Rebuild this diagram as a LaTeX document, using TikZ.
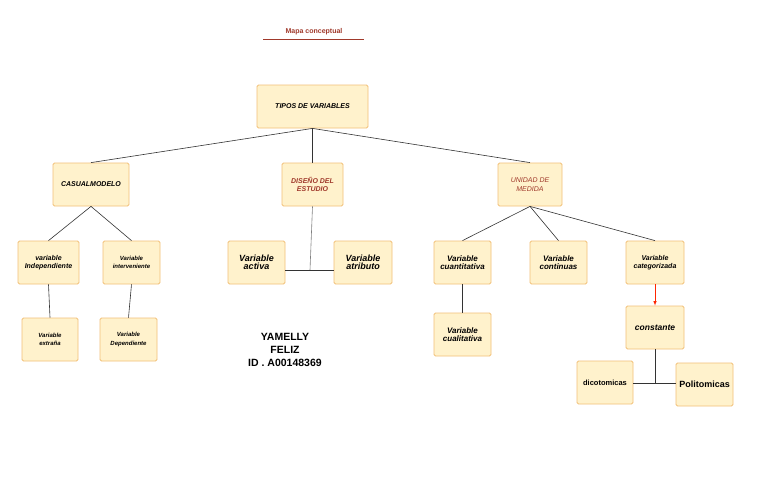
\documentclass[tikz,border=0pt]{standalone}
\usepackage{fontspec}
\setmainfont{Liberation Sans}
\definecolor{boxfill}{HTML}{FFF2CC}
\definecolor{boxline}{HTML}{F2C078}
\definecolor{redtxt}{HTML}{A0392B}
\begin{document}
\begin{tikzpicture}[x=1pt,y=-1pt,
  bx/.style={draw=boxline,fill=boxfill,rounded corners=1.5pt,line width=0.8pt,align=center,font=\bfseries\itshape\fontsize{7}{8.5}\selectfont},
  ln/.style={draw=black!80,line width=0.6pt}]
\useasboundingbox (0,0) rectangle (768,479);
\fill[white] (0,0) rectangle (768,479);
\node[font=\bfseries\fontsize{7}{8}\selectfont,text=redtxt] (title) at (314,32) {Mapa conceptual};
\draw[redtxt,line width=0.6pt] (263,39) -- (364,39);
\newcommand{\bxat}[6]{\node[bx,minimum width=#3-#2,minimum height=#5-#4,inner sep=1pt] (#1) at ({(#2+#3)/2},{(#4+#5)/2}) {#6};}
\bxat{tipos}{257}{368}{85}{128}{TIPOS DE VARIABLES}
\bxat{casual}{53}{129}{163}{206}{CASUALMODELO}
\bxat{dis}{282}{343}{163}{206}{\textcolor{redtxt}{DISEÑO DEL}\\\textcolor{redtxt}{ESTUDIO}}
\bxat{uni}{498}{562}{163}{206}{\mdseries\textcolor{redtxt}{UNIDAD DE}\\\mdseries\textcolor{redtxt}{MEDIDA}}
\bxat{indep}{18}{79}{241}{284}{variable\\Independiente}
\bxat{interv}{103}{160}{241}{284}{\fontsize{6}{8}\selectfont Variable\\\fontsize{6}{8}\selectfont interveniente}
\bxat{extr}{22}{78}{318}{361}{\fontsize{6}{8}\selectfont Variable\\\fontsize{6}{8}\selectfont extraña}
\bxat{dep}{100}{157}{318}{361}{\fontsize{6}{8}\selectfont Variable\\\fontsize{6}{8}\selectfont Dependiente}
\bxat{act}{228}{285}{241}{284}{\fontsize{9}{12}\selectfont Variable\\\fontsize{9}{12}\selectfont activa}
\bxat{atr}{334}{392}{241}{284}{\fontsize{9}{12}\selectfont Variable\\\fontsize{9}{12}\selectfont atributo}
\bxat{cuan}{434}{491}{241}{284}{\fontsize{8}{10}\selectfont Variable\\\fontsize{8}{10}\selectfont cuantitativa}
\bxat{cont}{530}{587}{241}{284}{\fontsize{8}{10}\selectfont Variable\\\fontsize{8}{10}\selectfont continuas}
\bxat{cat}{626}{684}{241}{284}{Variable\\categorizada}
\bxat{cual}{434}{491}{313}{356}{\fontsize{8}{10}\selectfont Variable\\\fontsize{8}{10}\selectfont cualitativa}
\bxat{cons}{626}{684}{306}{349}{\fontsize{8.5}{10}\selectfont constante}
\bxat{dic}{577}{633}{361}{404}{\upshape\fontsize{7.5}{9}\selectfont dicotomicas}
\bxat{pol}{676}{733}{363}{406}{\upshape\fontsize{9}{11}\selectfont Politomicas}
\node[font=\bfseries\fontsize{10.5}{13}\selectfont,align=center] (name) at (285,350) {YAMELLY\\FELIZ\\ID . A00148369};
% connectors
\draw[ln] (tipos.south) -- (casual.north);
\draw[ln] (tipos.south) -- (dis.north);
\draw[ln] (tipos.south) -- (uni.north);
\draw[ln] (casual.south) -- (indep.north);
\draw[ln] (casual.south) -- (interv.north);
\draw[ln] (indep.south) -- (extr.north);
\draw[ln] (interv.south) -- (dep.north);
\coordinate (j1) at (310,270);
\draw[ln,black!50] (dis.south) -- (j1);
\draw[ln,line width=1pt] (act.east |- j1) -- (atr.west |- j1);
\draw[ln] (uni.south) -- (cuan.north);
\draw[ln] (uni.south) -- (cont.north);
\draw[ln] (uni.south) -- (cat.north);
\draw[ln] (cuan.south) -- (cual.north);
\draw[draw=red!70!orange,line width=0.6pt,-latex] (cat.south) -- (cons.north);
\coordinate (j2) at (655,383);
\draw[ln] (cons.south) -- (j2);
\draw[ln] (dic.east |- j2) -- (pol.west |- j2);
\end{tikzpicture}
\end{document}
